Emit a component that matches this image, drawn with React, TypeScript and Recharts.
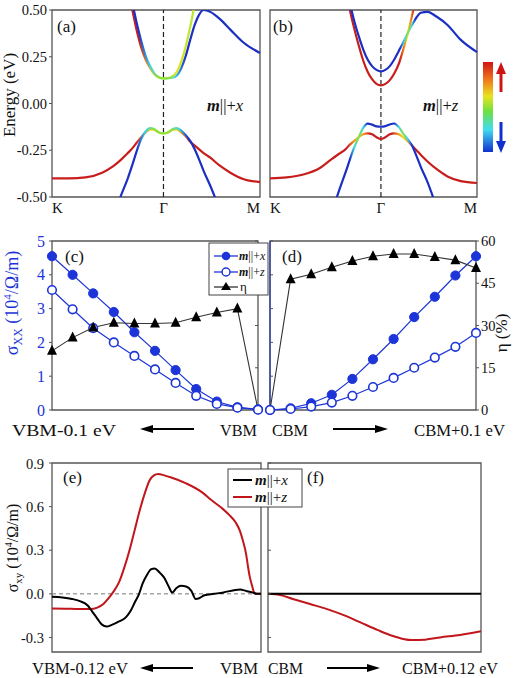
import React from 'react'
import { Line, LineChart, ReferenceArea, ReferenceLine, XAxis, YAxis } from 'recharts'

const FONT = "'Liberation Serif', 'Liberation Sans', Arimo, Arial, sans-serif"

// k-path K -> Γ -> M, Γ at 0 and |ΓM| = √3/2 |ΓK|
const kGrid = [-1, -0.85, -0.7, -0.55, -0.45, -0.38, -0.32, -0.28, -0.24, -0.2, -0.16, -0.12, -0.08, -0.04, 0, 0.04, 0.08, 0.12, 0.16, 0.2, 0.24, 0.28, 0.32, 0.36, 0.42, 0.5, 0.6, 0.72, 0.866]
const kTicks = [-1, 0, 0.866]
const kNames = ['K', 'Γ', 'M']
const energyTicks = [-0.5, -0.25, 0, 0.25, 0.5]

// bands for m || +x (eV)
const aCond1 = [2.2, 1.8, 1.4, 1.05, 0.85, 0.7, 0.59, 0.5, 0.39, 0.3, 0.235, 0.19, 0.155, 0.138, 0.134, 0.135, 0.138, 0.15, 0.19, 0.255, 0.34, 0.42, 0.475, 0.5, 0.49, 0.455, 0.395, 0.325, 0.27]
const aCond2 = [2.6, 2.1, 1.6, 1.2, 0.95, 0.78, 0.63, 0.54, 0.43, 0.335, 0.255, 0.2, 0.16, 0.14, 0.134, 0.136, 0.145, 0.17, 0.225, 0.305, 0.41, 0.53, 0.66, 0.8, 1.0, 1.3, 1.7, 2.2, 2.8]
const aVal1 = [-0.4, -0.4, -0.395, -0.37, -0.335, -0.3, -0.265, -0.24, -0.21, -0.18, -0.155, -0.138, -0.142, -0.155, -0.16, -0.155, -0.142, -0.138, -0.155, -0.175, -0.205, -0.225, -0.245, -0.265, -0.29, -0.33, -0.37, -0.405, -0.42]
const aVal2 = [-1.5, -1.25, -1.0, -0.76, -0.6, -0.49, -0.4, -0.33, -0.255, -0.19, -0.15, -0.132, -0.138, -0.155, -0.16, -0.155, -0.138, -0.132, -0.145, -0.17, -0.2, -0.245, -0.3, -0.36, -0.44, -0.56, -0.72, -0.9, -1.12]

// bands for m || +z (eV)
const bCondR = [2.9, 2.3, 1.8, 1.35, 1.02, 0.82, 0.63, 0.5, 0.4, 0.31, 0.23, 0.17, 0.13, 0.105, 0.097, 0.105, 0.125, 0.16, 0.21, 0.285, 0.37, 0.47, 0.58, 0.7, 0.9, 1.2, 1.6, 2.1, 2.7]
const bCondB = [3.0, 2.4, 1.85, 1.4, 1.08, 0.86, 0.67, 0.54, 0.44, 0.36, 0.29, 0.235, 0.2, 0.18, 0.172, 0.18, 0.2, 0.235, 0.28, 0.325, 0.375, 0.42, 0.46, 0.485, 0.49, 0.465, 0.42, 0.34, 0.275]
const bValR = [-0.4, -0.395, -0.38, -0.345, -0.3, -0.27, -0.245, -0.22, -0.2, -0.18, -0.165, -0.16, -0.165, -0.18, -0.19, -0.18, -0.165, -0.16, -0.165, -0.18, -0.2, -0.225, -0.25, -0.275, -0.31, -0.35, -0.39, -0.415, -0.425]
const bValB = [-1.6, -1.3, -1.05, -0.8, -0.6, -0.47, -0.37, -0.3, -0.235, -0.18, -0.13, -0.108, -0.113, -0.122, -0.124, -0.121, -0.112, -0.107, -0.125, -0.16, -0.19, -0.225, -0.28, -0.34, -0.42, -0.55, -0.7, -0.88, -1.1]

// spin colour along each band, keyed by k
const R = '#c81d1d'
const O = '#f08c1c'
const Y = '#e6e21e'
const G = '#8ee03c'
const C = '#3ed6e8'
const B = '#1b2fc4'
type Stop = [number, string]
const aCond1Spin: Stop[] = [[-1, R], [-0.22, R], [-0.14, O], [-0.07, Y], [0, G], [0.1, C], [0.2, B], [0.866, B]]
const aCond2Spin: Stop[] = [[-1, B], [-0.22, B], [-0.12, C], [-0.04, G], [0.05, G], [0.12, Y], [0.25, '#b8e830'], [0.866, G]]
const aVal1Spin: Stop[] = [[-1, R], [-0.25, R], [-0.17, O], [-0.1, Y], [0, '#a8e040'], [0.1, Y], [0.17, O], [0.25, R], [0.866, R]]
const aVal2Spin: Stop[] = [[-1, B], [-0.24, B], [-0.16, C], [-0.08, G], [0.06, G], [0.14, C], [0.22, B], [0.866, B]]
const bCondRSpin: Stop[] = [[-1, R], [0.17, R], [0.21, O], [0.24, Y], [0.27, O], [0.3, R], [0.866, R]]
const bCondBSpin: Stop[] = [[-1, B], [0.17, B], [0.21, C], [0.245, G], [0.28, C], [0.31, B], [0.866, B]]
const bValRSpin: Stop[] = [[-1, R], [-0.3, R], [-0.25, O], [-0.2, Y], [-0.15, O], [-0.1, R], [0.1, R], [0.15, O], [0.2, Y], [0.25, O], [0.3, R], [0.866, R]]
const bValBSpin: Stop[] = [[-1, B], [-0.28, B], [-0.24, C], [-0.2, G], [-0.16, C], [-0.12, B], [0.12, B], [0.16, C], [0.2, G], [0.24, C], [0.28, B], [0.866, B]]

// longitudinal conductivity (10^4/Ω/m) and anisotropy η (%)
const stepIdx = [0, 1, 2, 3, 4, 5, 6, 7, 8, 9, 10]
const sxxVbmX = [4.55, 4.0, 3.45, 2.9, 2.3, 1.75, 1.18, 0.62, 0.25, 0.08, 0.02]
const sxxVbmZ = [3.55, 2.98, 2.42, 2.0, 1.6, 1.2, 0.8, 0.42, 0.18, 0.07, 0.01]
const etaVbm = [21, 25.7, 29.3, 31, 30.7, 30.7, 31, 32.9, 34.6, 36, 0]
const sxxCbmX = [0, 0.05, 0.2, 0.45, 0.92, 1.5, 2.1, 2.75, 3.35, 3.98, 4.55]
const sxxCbmZ = [0, 0.03, 0.1, 0.22, 0.42, 0.68, 0.95, 1.25, 1.55, 1.87, 2.28]
const etaCbm = [0, 46.4, 48.2, 50.7, 52.9, 54.6, 55.4, 55.4, 54.3, 53.2, 50.4]
const sxxTicks = [0, 1, 2, 3, 4, 5]
const etaTicks = [0, 15, 30, 45, 60]

// anomalous Hall conductivity (10^4/Ω/m) vs energy offset (meV)
const vbmXE = [-120, -114, -108.5, -104, -99.5, -97, -94, -91.5, -88.5, -86, -81.5, -77.5, -75, -72.5, -70, -68, -65.5, -63, -61, -58.5, -55.5, -53, -51, -48.5, -46, -43, -40, -37.5, -35.5, -32.5, -27, -21.5, -15.5, -12, -8.5, -5, -2.5, 0]
const vbmXS = [-0.02, -0.025, -0.035, -0.05, -0.08, -0.12, -0.17, -0.21, -0.225, -0.215, -0.19, -0.16, -0.12, -0.06, 0, 0.07, 0.13, 0.17, 0.175, 0.15, 0.11, 0.05, 0.01, 0.04, 0.055, 0.05, 0.02, -0.035, -0.03, -0.01, 0, 0.01, 0.025, 0.03, 0.02, 0.01, 0, 0]
const vbmZE = [-120, -112.5, -104, -98, -94, -90.5, -87.5, -85, -81.5, -78.5, -75.5, -72.5, -69.5, -66.5, -64, -61.5, -59, -55.5, -51.5, -43, -34, -28.5, -22.5, -18, -14.5, -12, -10.5, -8.5, -7.5, -6.5, -5, -4, -2.5, 0]
const vbmZS = [-0.1, -0.102, -0.105, -0.105, -0.095, -0.07, -0.03, 0.01, 0.08, 0.18, 0.3, 0.44, 0.58, 0.7, 0.78, 0.815, 0.825, 0.815, 0.8, 0.76, 0.7, 0.645, 0.59, 0.54, 0.49, 0.43, 0.37, 0.27, 0.19, 0.12, 0.05, 0.01, 0, 0]
const cbmXE = [0, 30, 60, 90, 120]
const cbmXS = [0, 0, 0, 0, 0]
const cbmZE = [0, 6.8, 14, 23.7, 33.3, 43.4, 51.8, 62, 70.4, 76.1, 81.1, 88.5, 96.9, 108.2, 120]
const cbmZS = [0, -0.008, -0.035, -0.07, -0.105, -0.15, -0.195, -0.25, -0.29, -0.31, -0.318, -0.315, -0.3, -0.283, -0.258]
const sxyTicks = [-0.3, 0, 0.3, 0.6, 0.9]

const BLUE = '#1d35d8'
const HALL_RED = '#c0161c'
const FRAME = '#555'
const INK = '#111'

interface BandSpec {
  key: string
  values: number[]
  spin: Stop[]
}

const bandRows = (bands: BandSpec[]) =>
  kGrid.map((k, i) => {
    const row: Record<string, number> = { k }
    bands.forEach((b) => {
      row[b.key] = b.values[i]
    })
    return row
  })

const KTick = (props: any) => {
  const { x, y, payload } = props
  const idx = kTicks.indexOf(payload.value)
  const anchor = idx === 0 ? 'start' : idx === 2 ? 'end' : 'middle'
  return (
    <text x={x} y={y + 16} textAnchor={anchor} fontSize={15} fill={INK} fontFamily={FONT}>
      {kNames[idx]}
    </text>
  )
}

const TriangleDot = (props: any) => {
  const { cx, cy, index, payload } = props
  if (!payload || !payload.eta) return <g key={`tri-${index}`} />
  const s = 5
  return <path key={`tri-${index}`} d={`M${cx},${cy - s - 1} L${cx + s},${cy + s * 0.8} L${cx - s},${cy + s * 0.8} Z`} fill="#000" />
}

interface BandPanelProps {
  id: string
  bands: BandSpec[]
  width: number
  marginLeft: number
  axisWidth: number
  showLabels: boolean
}

const BandPanel: React.FC<BandPanelProps> = ({ id, bands, width, marginLeft, axisWidth, showLabels }) => {
  const plotLeft = marginLeft + (showLabels ? axisWidth : 0)
  const plotRight = width - 10
  const kMin = kGrid[0]
  const kMax = kGrid[kGrid.length - 1]
  return (
    <LineChart width={width} height={222} data={bandRows(bands)} margin={{ top: 10, right: 10, bottom: 0, left: marginLeft }}>
      <defs>
        {bands.map((b) => (
          <linearGradient key={b.key} id={`${id}-${b.key}`} gradientUnits="userSpaceOnUse" x1={plotLeft} y1={0} x2={plotRight} y2={0}>
            {b.spin.map(([k, c], i) => (
              <stop key={i} offset={(k - kMin) / (kMax - kMin)} stopColor={c} />
            ))}
          </linearGradient>
        ))}
      </defs>
      <XAxis type="number" dataKey="k" domain={[kMin, kMax]} ticks={kTicks} interval={0} axisLine={false} tickLine={false} tickSize={0} tickMargin={0} height={25} tick={<KTick />} />
      <YAxis
        type="number"
        domain={[-0.5, 0.5]}
        allowDataOverflow
        ticks={energyTicks}
        width={showLabels ? axisWidth : 0}
        mirror={!showLabels}
        axisLine={false}
        tickLine={{ stroke: FRAME }}
        tickSize={3}
        tickMargin={2}
        tickFormatter={(v: number) => (showLabels ? v.toFixed(2) : '')}
        tick={{ fill: INK, fontSize: 14.5, fontFamily: FONT }}
      />
      <ReferenceLine x={0} stroke="#222" strokeDasharray="5 3" strokeWidth={1.2} />
      {bands.map((b) => (
        <Line key={b.key} type="monotone" dataKey={b.key} stroke={`url(#${id}-${b.key})`} strokeWidth={2.2} dot={false} activeDot={false} isAnimationActive={false} />
      ))}
      <ReferenceArea x1={kMin} x2={kMax} y1={-0.5} y2={0.5} fill="none" stroke={FRAME} strokeWidth={1.3} />
    </LineChart>
  )
}

const bandsA: BandSpec[] = [
  { key: 'v1', values: aVal1, spin: aVal1Spin },
  { key: 'v2', values: aVal2, spin: aVal2Spin },
  { key: 'c1', values: aCond1, spin: aCond1Spin },
  { key: 'c2', values: aCond2, spin: aCond2Spin },
]
const bandsB: BandSpec[] = [
  { key: 'v1', values: bValR, spin: bValRSpin },
  { key: 'v2', values: bValB, spin: bValBSpin },
  { key: 'c1', values: bCondR, spin: bCondRSpin },
  { key: 'c2', values: bCondB, spin: bCondBSpin },
]

const vbmRows = stepIdx.map((i) => ({ i, x: sxxVbmX[i], z: sxxVbmZ[i], eta: etaVbm[i] }))
const cbmRows = stepIdx.map((i) => ({ i, x: sxxCbmX[i], z: sxxCbmZ[i], eta: etaCbm[i] }))

const sigmaSeries = [
  <Line key="x" yAxisId="s" dataKey="x" stroke={BLUE} strokeWidth={1.2} dot={{ r: 4.6, fill: BLUE, stroke: BLUE, strokeWidth: 1 }} activeDot={false} isAnimationActive={false} />,
  <Line key="z" yAxisId="s" dataKey="z" stroke={BLUE} strokeWidth={1.2} dot={{ r: 4.3, fill: '#fff', stroke: BLUE, strokeWidth: 1.6 }} activeDot={false} isAnimationActive={false} />,
  <Line key="eta" yAxisId="eta" dataKey="eta" stroke="#333" strokeWidth={1.1} dot={<TriangleDot />} activeDot={false} isAnimationActive={false} />,
]

const hallLines = (xE: number[], xS: number[], zE: number[], zS: number[]) => [
  <Line key="z" data={zE.map((e, i) => ({ e, s: zS[i] }))} dataKey="s" type="monotone" stroke={HALL_RED} strokeWidth={2} dot={false} activeDot={false} isAnimationActive={false} />,
  <Line key="x" data={xE.map((e, i) => ({ e, s: xS[i] }))} dataKey="s" type="monotone" stroke="#000" strokeWidth={2} dot={false} activeDot={false} isAnimationActive={false} />,
]

const Arrow = ({ x1, x2, y }: { x1: number; x2: number; y: number }) => {
  const d = Math.sign(x2 - x1)
  return (
    <g>
      <line x1={x1} y1={y} x2={x2 - d * 8} y2={y} stroke="#000" strokeWidth={2} />
      <path d={`M${x2},${y} L${x2 - d * 13},${y - 4} L${x2 - d * 13},${y + 4} Z`} fill="#000" />
    </g>
  )
}

const MLabel = ({ x, y, axis, size }: { x: number; y: number; axis: string; size: number }) => (
  <text x={x} y={y} fontSize={size} fill={INK}>
    <tspan fontWeight="bold" fontStyle="italic">m</tspan>
    <tspan>||+</tspan>
    <tspan fontStyle="italic">{axis}</tspan>
  </text>
)

// bottom caption squeezed or stretched to a fixed extent
const Caption = ({ x, y, w, size = 17, children }: { x: number; y: number; w: number; size?: number; children: string }) => (
  <text x={x} y={y} fontSize={size} fill={INK} textLength={w} lengthAdjust="spacingAndGlyphs">
    {children}
  </text>
)

const App: React.FC = () => {
  const abs = (left: number, top: number): React.CSSProperties => ({ position: 'absolute', left, top })
  const tickFont = { fontSize: 14.5, fontFamily: FONT }
  return (
    <div style={{ position: 'absolute', left: 0, top: 0, width: 520, height: 678, background: '#fff', fontFamily: FONT, overflow: 'hidden' }}>
      <div style={abs(0, 0)}>
        <BandPanel id="ga" bands={bandsA} width={270} marginLeft={0} axisWidth={52} showLabels />
      </div>
      <div style={abs(260, 0)}>
        <BandPanel id="gb" bands={bandsB} width={227} marginLeft={10} axisWidth={0} showLabels={false} />
      </div>

      <div style={abs(0, 230)}>
        <LineChart width={268} height={215} data={vbmRows} margin={{ top: 11, right: 10, bottom: 35, left: 0 }}>
          <XAxis type="number" dataKey="i" domain={[0, 10]} hide />
          <YAxis yAxisId="s" type="number" domain={[0, 5]} ticks={sxxTicks} width={52} axisLine={false} tickLine={{ stroke: FRAME }} tickSize={3} tickMargin={4} tick={{ fill: BLUE, fontSize: 16, fontFamily: FONT }} />
          <YAxis yAxisId="eta" orientation="right" type="number" domain={[0, 60]} ticks={etaTicks} mirror axisLine={false} tickLine={{ stroke: FRAME }} tickSize={3} tickFormatter={() => ''} />
          <ReferenceArea yAxisId="s" x1={0} x2={10} y1={0} y2={5} fill="none" stroke={FRAME} strokeWidth={1.3} />
          {sigmaSeries}
        </LineChart>
      </div>
      <div style={abs(260, 230)}>
        <LineChart width={260} height={215} data={cbmRows} margin={{ top: 11, right: 0, bottom: 35, left: 10 }}>
          <XAxis type="number" dataKey="i" domain={[0, 10]} hide />
          <YAxis yAxisId="s" type="number" domain={[0, 5]} ticks={sxxTicks} mirror axisLine={false} tickLine={{ stroke: FRAME }} tickSize={3} tickFormatter={() => ''} />
          <YAxis yAxisId="eta" orientation="right" type="number" domain={[0, 60]} ticks={etaTicks} width={44} axisLine={false} tickLine={{ stroke: FRAME }} tickSize={3} tickMargin={2} tick={{ fill: INK, ...tickFont }} />
          <ReferenceArea yAxisId="s" x1={0} x2={10} y1={0} y2={5} fill="none" stroke={FRAME} strokeWidth={1.3} />
          <ReferenceLine yAxisId="s" x={0} stroke="#3040b0" strokeWidth={1.3} />
          {sigmaSeries}
        </LineChart>
      </div>

      <div style={abs(0, 455)}>
        <LineChart width={268} height={223} margin={{ top: 8, right: 7, bottom: 26, left: 0 }}>
          <XAxis type="number" dataKey="e" domain={[-120, 0]} hide allowDuplicatedCategory={false} />
          <YAxis type="number" domain={[-0.4, 0.9]} ticks={sxyTicks} width={52} axisLine={false} tickLine={{ stroke: FRAME }} tickSize={3} tickMargin={5} tickFormatter={(v: number) => v.toFixed(1)} tick={{ fill: INK, ...tickFont }} />
          <ReferenceArea x1={-120} x2={0} y1={-0.4} y2={0.9} fill="none" stroke={FRAME} strokeWidth={1.3} />
          <ReferenceLine y={0} stroke="#777" strokeDasharray="4 3" strokeWidth={1} />
          {hallLines(vbmXE, vbmXS, vbmZE, vbmZS)}
        </LineChart>
      </div>
      <div style={abs(260, 455)}>
        <LineChart width={230} height={223} margin={{ top: 8, right: 9, bottom: 26, left: 8 }}>
          <XAxis type="number" dataKey="e" domain={[0, 120]} hide allowDuplicatedCategory={false} />
          <YAxis type="number" domain={[-0.4, 0.9]} ticks={sxyTicks} mirror axisLine={false} tickLine={{ stroke: FRAME }} tickSize={3} tickFormatter={() => ''} />
          <ReferenceArea x1={0} x2={120} y1={-0.4} y2={0.9} fill="none" stroke={FRAME} strokeWidth={1.3} />
          {hallLines(cbmXE, cbmXS, cbmZE, cbmZS)}
        </LineChart>
      </div>

      <svg width={520} height={678} style={{ position: 'absolute', left: 0, top: 0, pointerEvents: 'none', fontFamily: FONT }}>
        <defs>
          <linearGradient id="spinBar" x1="0" y1="0" x2="0" y2="1">
            <stop offset="0" stopColor="#d01414" />
            <stop offset="0.2" stopColor="#f07a1c" />
            <stop offset="0.38" stopColor="#e8e41e" />
            <stop offset="0.55" stopColor="#6ee040" />
            <stop offset="0.75" stopColor="#40dcf0" />
            <stop offset="1" stopColor="#1030d0" />
          </linearGradient>
        </defs>

        {/* band-structure annotations */}
        <text transform="translate(15,95) rotate(-90)" textAnchor="middle" fontSize={17} fill={INK}>Energy (eV)</text>
        <text x={57} y={32} fontSize={17} fill={INK}>(a)</text>
        <text x={273} y={32} fontSize={17} fill={INK}>(b)</text>
        <MLabel x={207} y={111} axis="x" size={16.5} />
        <MLabel x={423} y={111} axis="z" size={16.5} />
        <rect x={483} y={62} width={10} height={90} fill="url(#spinBar)" />
        <line x1={501} y1={92} x2={501} y2={70} stroke="#d01414" strokeWidth={3} />
        <path d="M501,62 L496,74 L506,74 Z" fill="#d01414" />
        <line x1={501} y1={122} x2={501} y2={144} stroke="#1030d0" strokeWidth={3} />
        <path d="M501,153 L496,141 L506,141 Z" fill="#1030d0" />

        {/* σxx / η annotations */}
        <text transform="translate(18,303) rotate(-90)" textAnchor="middle" fontSize={18} fill={BLUE}>
          σ<tspan fontSize={12} dy={4}>XX</tspan>
          <tspan dy={-4}> (10</tspan>
          <tspan fontSize={11} dy={-7}>4</tspan>
          <tspan dy={7}>/Ω/m)</tspan>
        </text>
        <text transform="translate(507,333) rotate(-90)" textAnchor="middle" fontSize={17} fill={INK}>η (%)</text>
        <text x={65} y={262} fontSize={17} fill={INK}>(c)</text>
        <text x={282} y={262} fontSize={17} fill={INK}>(d)</text>
        <rect x={209} y={243} width={59} height={52} fill="#fff" stroke="#444" strokeWidth={1} />
        <line x1={214} y1={256} x2={238} y2={256} stroke={BLUE} strokeWidth={1.3} />
        <circle cx={226} cy={256} r={4.3} fill={BLUE} />
        <MLabel x={239} y={260} axis="x" size={12} />
        <line x1={214} y1={272} x2={238} y2={272} stroke={BLUE} strokeWidth={1.3} />
        <circle cx={226} cy={272} r={4} fill="#fff" stroke={BLUE} strokeWidth={1.5} />
        <MLabel x={239} y={276} axis="z" size={12} />
        <line x1={214} y1={287} x2={238} y2={287} stroke="#222" strokeWidth={1.2} />
        <path d="M226,282 L231,290 L221,290 Z" fill="#000" />
        <text x={240} y={291} fontSize={13} fill={INK}>η</text>
        <Caption x={12} y={436} w={104}>VBM-0.1 eV</Caption>
        <Arrow x1={194} x2={140} y={429} />
        <Caption x={220} y={436} w={37}>VBM</Caption>
        <Caption x={272} y={436} w={36}>CBM</Caption>
        <Arrow x1={333} x2={388} y={429} />
        <Caption x={414} y={436} w={91}>CBM+0.1 eV</Caption>

        {/* σxy annotations */}
        <text transform="translate(18,548) rotate(-90)" textAnchor="middle" fontSize={16} fill={INK}>
          σ<tspan fontSize={11} dy={4}>xy</tspan>
          <tspan dy={-4}> (10</tspan>
          <tspan fontSize={10} dy={-6}>4</tspan>
          <tspan dy={6}>/Ω/m)</tspan>
        </text>
        <text x={63} y={483} fontSize={17} fill={INK}>(e)</text>
        <text x={307} y={483} fontSize={17} fill={INK}>(f)</text>
        <rect x={228} y={469} width={74} height={38} fill="#fff" stroke="#444" strokeWidth={1} />
        <line x1={233} y1={480} x2={252} y2={480} stroke="#000" strokeWidth={2} />
        <MLabel x={255} y={485} axis="x" size={15} />
        <line x1={233} y1={497} x2={252} y2={497} stroke={HALL_RED} strokeWidth={2} />
        <MLabel x={255} y={502} axis="z" size={15} />
        <Caption x={32} y={674} w={96}>VBM-0.12 eV</Caption>
        <Arrow x1={193} x2={140} y={668} />
        <Caption x={220} y={674} w={38}>VBM</Caption>
        <Caption x={268} y={674} w={35}>CBM</Caption>
        <Arrow x1={327} x2={380} y={668} />
        <Caption x={402} y={674} w={96}>CBM+0.12 eV</Caption>
      </svg>
    </div>
  )
}

export default App
